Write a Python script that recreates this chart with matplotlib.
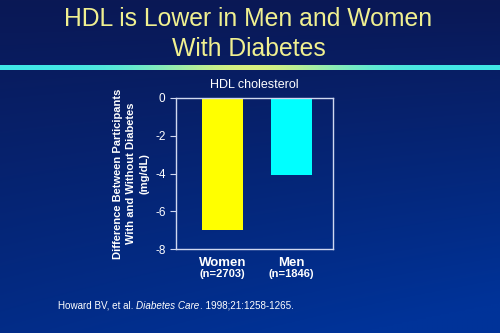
import numpy as np
import matplotlib
matplotlib.use("Agg")
import matplotlib.pyplot as plt

categories = ["Women", "Men"]
sample_sizes = ["(n=2703)", "(n=1846)"]
values = [-7.0, -4.1]
bar_colors = ["#ffff00", "#00ffff"]
yticks = [0, -2, -4, -6, -8]

FONT = "Liberation Sans"
fig = plt.figure(figsize=(5, 3.33), dpi=100)

# background gradient
bg = fig.add_axes([0, 0, 1, 1])
h, w = 200, 300
yy, xx = np.mgrid[0:1:h*1j, 0:1:w*1j]
t = np.clip(0.75 * yy + 0.35 * xx * yy, 0, 1)
top = np.array([0x0a, 0x18, 0x55]) / 255
bot = np.array([0x00, 0x33, 0x99]) / 255
img = top[None, None, :] * (1 - t[..., None]) + bot[None, None, :] * t[..., None]
bg.imshow(img, extent=[0, 1, 0, 1], origin="upper", aspect="auto")
# separator line gradient
lx = np.linspace(0, 1, 300)
c1 = np.array([0x40, 0xe8, 0xe8]) / 255
c2 = np.array([0xd8, 0xf0, 0x80]) / 255
m = np.exp(-((lx - 0.5) / 0.2) ** 2)
line = c1[None, :] * (1 - m[:, None]) + c2[None, :] * m[:, None]
bg.imshow(line[None, :, :], extent=[0, 1, 1 - 70/333, 1 - 65/333], aspect="auto")
bg.set_xlim(0, 1)
bg.set_ylim(0, 1)
bg.axis("off")

fig.text(0.497, 1 - 19/333, "HDL is Lower in Men and Women", ha="center", va="center",
         color="#f0f090", fontsize=17.8, family=FONT)
fig.text(0.497, 1 - 49/333, "With Diabetes", ha="center", va="center",
         color="#f0f090", fontsize=17.8, family=FONT)

ax = fig.add_axes([176/500, 1 - 249/333, 157/500, 151/333])
ax.patch.set_alpha(0)
x = np.arange(len(categories))
ax.bar(x, values, width=0.6, color=bar_colors)
ax.set_ylim(-8, 0)
ax.set_xlim(-0.68, 1.61)
ax.set_yticks(yticks)
ax.set_yticklabels([str(v) for v in yticks])
for s in ax.spines.values():
    s.set_color("#d0d8f0")
    s.set_linewidth(1)
ax.tick_params(axis="y", colors="#d0d8f0", labelcolor="white", length=4, labelsize=8.5)
for lab in ax.get_yticklabels():
    lab.set_family(FONT)
ax.set_xticks([])
for xi, cat, n in zip(x, categories, sample_sizes):
    ax.text(xi, -8.74, cat, ha="center", va="center", color="white", fontsize=9.5,
            fontweight="bold", family=FONT)
    ax.text(xi, -9.33, n, ha="center", va="center", color="white", fontsize=8,
            fontweight="bold", family=FONT)
ax.set_title("HDL cholesterol", color="white", fontsize=9, pad=7, family=FONT)
ax.set_ylabel("Difference Between Participants\nWith and Without Diabetes\n(mg/dL)",
              color="white", fontsize=8, fontweight="bold", family=FONT,
              linespacing=1.4, labelpad=4)

t1 = fig.text(58/500, 1 - 309/333, "Howard BV, et al. ", color="white", fontsize=7.1,
              va="baseline", family=FONT)
t2 = fig.text(0, 0, "Diabetes Care", color="white", fontsize=7.1, fontstyle="italic",
              family=FONT)
t3 = fig.text(0, 0, ". 1998;21:1258-1265.", color="white", fontsize=7.1, family=FONT)
fig.canvas.draw()
r = fig.canvas.get_renderer()
inv = fig.transFigure.inverted()
b1 = t1.get_window_extent(r)
x2 = inv.transform((b1.x1, 0))[0]
t2.set_position((x2, t1.get_position()[1]))
t2.set_va("baseline")
fig.canvas.draw()
b2 = t2.get_window_extent(r)
x3 = inv.transform((b2.x1, 0))[0]
t3.set_position((x3, t1.get_position()[1]))
t3.set_va("baseline")

fig.savefig("out.png", dpi=100)
